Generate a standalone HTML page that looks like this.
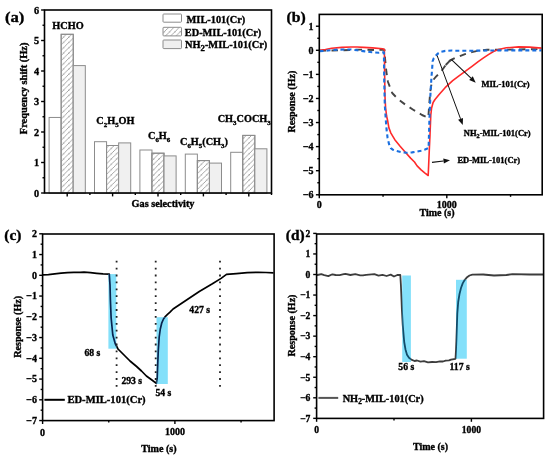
<!DOCTYPE html><html><head><meta charset="utf-8"><style>html,body{margin:0;padding:0;background:#fff;}svg{display:block;}text{font-family:"Liberation Serif","Times New Roman",serif;font-weight:bold;fill:#000;stroke:#000;stroke-width:0.35px;}</style></head><body>
<svg width="550" height="457" viewBox="0 0 550 457">
<defs><pattern id="hatch" patternUnits="userSpaceOnUse" width="5.3" height="5.3" patternTransform="translate(0,0)"><path d="M-1,1.325 L1.325,-1 M0,5.3 L5.3,0 M3.975,6.3 L6.3,3.975" stroke="#8a8a8a" stroke-width="0.75"/></pattern></defs>
<rect width="550" height="457" fill="#fff"/>
<g stroke="#8c8c8c" stroke-width="1">
<rect x="49.1" y="117.45" width="12.07" height="75.85" fill="#fff"/>
<rect x="61.17" y="34.3" width="12.07" height="159" fill="#fff"/>
<rect x="61.17" y="34.3" width="12.07" height="159" fill="url(#hatch)"/>
<rect x="73.24" y="65.6" width="12.07" height="127.7" fill="#f0f0f0"/>
<rect x="94.5" y="141.7" width="12.07" height="51.6" fill="#fff"/>
<rect x="106.57" y="145.5" width="12.07" height="47.8" fill="#fff"/>
<rect x="106.57" y="145.5" width="12.07" height="47.8" fill="url(#hatch)"/>
<rect x="118.64" y="142.9" width="12.07" height="50.4" fill="#f0f0f0"/>
<rect x="139.9" y="150" width="12.07" height="43.3" fill="#fff"/>
<rect x="151.97" y="153.2" width="12.07" height="40.1" fill="#fff"/>
<rect x="151.97" y="153.2" width="12.07" height="40.1" fill="url(#hatch)"/>
<rect x="164.04" y="155.9" width="12.07" height="37.4" fill="#f0f0f0"/>
<rect x="185.3" y="154.1" width="12.07" height="39.2" fill="#fff"/>
<rect x="197.37" y="160.6" width="12.07" height="32.7" fill="#fff"/>
<rect x="197.37" y="160.6" width="12.07" height="32.7" fill="url(#hatch)"/>
<rect x="209.44" y="163.1" width="12.07" height="30.2" fill="#f0f0f0"/>
<rect x="230.7" y="152.3" width="12.07" height="41" fill="#fff"/>
<rect x="242.77" y="135.4" width="12.07" height="57.9" fill="#fff"/>
<rect x="242.77" y="135.4" width="12.07" height="57.9" fill="url(#hatch)"/>
<rect x="254.84" y="148.8" width="12.07" height="44.5" fill="#f0f0f0"/>
</g>
<g stroke="#8c8c8c" stroke-width="1">
<rect x="163" y="14" width="18.5" height="8.2" fill="#fff" rx="0.8"/>
<rect x="163" y="27.3" width="18.5" height="8.6" fill="url(#hatch)" rx="0.8"/>
<rect x="163" y="40" width="18.5" height="8.6" fill="#efefef" rx="0.8"/>
</g>
<text x="186.6" y="23" font-size="10.35" text-anchor="start">MIL-101(Cr)</text>
<text x="184.8" y="36" font-size="10.35" text-anchor="start">ED-MIL-101(Cr)</text>
<text x="184.9" y="48.4" font-size="10.4" text-anchor="start">NH<tspan font-size="8.8" dy="2.8">2</tspan><tspan dy="-2.8">-MIL-101(Cr)</tspan></text>
<g stroke="#000" stroke-width="1.4" fill="none">
<rect x="44.5" y="10" width="227" height="183" fill="none" stroke="#000" stroke-width="1.6"/>
<line x1="41.1" y1="193" x2="44.5" y2="193"/>
<line x1="42.5" y1="177.75" x2="44.5" y2="177.75"/>
<line x1="41.1" y1="162.5" x2="44.5" y2="162.5"/>
<line x1="42.5" y1="147.25" x2="44.5" y2="147.25"/>
<line x1="41.1" y1="132" x2="44.5" y2="132"/>
<line x1="42.5" y1="116.75" x2="44.5" y2="116.75"/>
<line x1="41.1" y1="101.5" x2="44.5" y2="101.5"/>
<line x1="42.5" y1="86.25" x2="44.5" y2="86.25"/>
<line x1="41.1" y1="71" x2="44.5" y2="71"/>
<line x1="42.5" y1="55.75" x2="44.5" y2="55.75"/>
<line x1="41.1" y1="40.5" x2="44.5" y2="40.5"/>
<line x1="42.5" y1="25.25" x2="44.5" y2="25.25"/>
<line x1="41.1" y1="10" x2="44.5" y2="10"/>
<line x1="67.2" y1="193" x2="67.2" y2="196.4"/>
<line x1="112.6" y1="193" x2="112.6" y2="196.4"/>
<line x1="158" y1="193" x2="158" y2="196.4"/>
<line x1="203.4" y1="193" x2="203.4" y2="196.4"/>
<line x1="248.8" y1="193" x2="248.8" y2="196.4"/>
<line x1="89.9" y1="193" x2="89.9" y2="195"/>
<line x1="135.3" y1="193" x2="135.3" y2="195"/>
<line x1="180.7" y1="193" x2="180.7" y2="195"/>
<line x1="226.1" y1="193" x2="226.1" y2="195"/>
<line x1="271.5" y1="193" x2="271.5" y2="195"/>
</g>
<text x="39" y="196.6" font-size="10.25" text-anchor="end">0</text>
<text x="39" y="166.1" font-size="10.25" text-anchor="end">1</text>
<text x="39" y="135.6" font-size="10.25" text-anchor="end">2</text>
<text x="39" y="105.1" font-size="10.25" text-anchor="end">3</text>
<text x="39" y="74.6" font-size="10.25" text-anchor="end">4</text>
<text x="39" y="44.1" font-size="10.25" text-anchor="end">5</text>
<text x="39" y="13.6" font-size="10.25" text-anchor="end">6</text>
<text transform="translate(26.5,88.4) rotate(-90)" font-size="10.4" text-anchor="middle">Frequency shift (Hz)</text>
<text x="163" y="206.7" font-size="10.25" text-anchor="middle">Gas selectivity</text>
<text x="4.9" y="22.4" font-size="14.7" text-anchor="start" textLength="19.4" lengthAdjust="spacingAndGlyphs">(a)</text>
<text x="52.3" y="29.1" font-size="10.25" text-anchor="start">HCHO</text>
<text x="96.3" y="124" font-size="10.25" text-anchor="start">C<tspan font-size="6.9" dy="3.3">2</tspan><tspan dy="-3.3">H</tspan><tspan font-size="6.9" dy="3.3">5</tspan><tspan dy="-3.3">OH</tspan></text>
<text x="148" y="139" font-size="10.25" text-anchor="start">C<tspan font-size="6.9" dy="3.3">6</tspan><tspan dy="-3.3">H</tspan><tspan font-size="6.9" dy="3.3">6</tspan></text>
<text x="180" y="144.6" font-size="10.25" text-anchor="start">C<tspan font-size="6.9" dy="3.3">6</tspan><tspan dy="-3.3">H</tspan><tspan font-size="6.9" dy="3.3">5</tspan><tspan dy="-3.3">(CH</tspan><tspan font-size="6.9" dy="3.3">3</tspan><tspan dy="-3.3">)</tspan></text>
<text x="217.7" y="121.8" font-size="10.25" text-anchor="start">CH<tspan font-size="6.9" dy="3.3">3</tspan><tspan dy="-3.3">COCH</tspan><tspan font-size="6.9" dy="3.3">3</tspan></text>
<g fill="none" stroke-linejoin="round">
<polyline points="319.5,50.8 340,50.3 360,49.6 375,50 384.4,49.6 385.2,60 386.4,72 388,82 392.2,93 397.5,98.6 406.2,105.3 413.2,109.7 422,115 428.3,117.6 429.2,105 430.2,92 431.5,84 434,79 436,76.7 440.9,71.8 445.7,65 450,60.6 451.6,59.7 455,58 459.1,56.5 465,54.2 471.8,52.1 478.2,50.8 487.1,49.6 492.2,49.8 510,49.6 541.5,49" stroke="#444" stroke-width="1.9" stroke-dasharray="6.5,5.5"/>
<polyline points="445.7,65 450,60.6 451.6,59.7" stroke="#444" stroke-width="1.9"/>
<polyline points="319.5,50.2 325.4,49.5 331.7,48.3 341.9,47.4 350.8,47 357.2,47 363.5,47.4 372.5,47.9 382.6,48.7 384.4,49.5 384.6,70 384.9,95 385.6,108 386.6,116 387.6,120.5 388.9,127.9 390.9,133.1 394.8,139.7 400.1,146.2 404.7,151.5 410.6,158.1 414.5,162 417.1,165.9 421.1,169.9 425,173.1 428.2,175.5 429.3,150 430,135 430.8,115 431.6,108 433.1,102.5 435,99.5 438.3,95.5 440,93.5 445.1,87.7 452.7,80.7 459,75.8 465.5,71.2 472,66.3 478.2,61.6 483.5,57.8 488.4,54.6 493.5,51.5 498.5,49.5 506.4,47.8 518.7,46.9 529.6,47.1 541.5,48.1" stroke="#ff2a2a" stroke-width="1.6"/>
<polyline points="319.5,51.2 328,50.5 338.1,49.6 350.8,49.5 357.2,50.3 365,51.4 372,52.3 378.8,52.8 382.6,52.4 383.9,52.2 384.2,80 384.8,105 385.8,120 386.6,130 387.6,138 389,144 390.9,148.2 393,149.8 396.1,150.8 401,152 406.6,152.8 412,152.4 417.1,151.5 421,150.7 425,149.5 428.6,148 429.4,120 430.4,95 431.4,78 432.2,68 432.6,61.4 433.8,58.2 436.5,54.9 438.5,53.1 440.9,51.8 445.3,50.9 451.8,50.5 455,50.7 472.5,50.7 498.8,50.4 541.5,50.4" stroke="#1a6fe0" stroke-width="2.1" stroke-dasharray="4,3"/>
</g>
<line x1="451.5" y1="59.7" x2="470.99" y2="78.22" stroke="#111" stroke-width="1.1"/>
<polygon points="475.7,82.7 469.2,80.11 472.78,76.34" fill="#111"/>
<line x1="437.1" y1="55.5" x2="460.54" y2="118.8" stroke="#111" stroke-width="1"/>
<polygon points="462.8,124.9 458.1,119.71 462.98,117.9" fill="#111"/>
<line x1="432" y1="162.4" x2="443.55" y2="160.99" stroke="#111" stroke-width="1.2"/>
<polygon points="450,160.2 443.86,163.57 443.23,158.41" fill="#111"/>
<text x="481.5" y="86.9" font-size="8.5" text-anchor="start">MIL-101(Cr)</text>
<text x="463.8" y="136" font-size="8.5" text-anchor="start">NH<tspan font-size="6.2" dy="1.8">2</tspan><tspan dy="-1.8">-MIL-101(Cr)</tspan></text>
<text x="457.4" y="162.9" font-size="8.5" text-anchor="start">ED-MIL-101(Cr)</text>
<g stroke="#000" stroke-width="1.4" fill="none">
<rect x="319.3" y="14.4" width="222.9" height="180.4" fill="none" stroke="#000" stroke-width="1.6"/>
<line x1="315.9" y1="194.78" x2="319.3" y2="194.78"/>
<line x1="317.3" y1="182.74" x2="319.3" y2="182.74"/>
<line x1="315.9" y1="170.7" x2="319.3" y2="170.7"/>
<line x1="317.3" y1="158.66" x2="319.3" y2="158.66"/>
<line x1="315.9" y1="146.62" x2="319.3" y2="146.62"/>
<line x1="317.3" y1="134.58" x2="319.3" y2="134.58"/>
<line x1="315.9" y1="122.54" x2="319.3" y2="122.54"/>
<line x1="317.3" y1="110.5" x2="319.3" y2="110.5"/>
<line x1="315.9" y1="98.46" x2="319.3" y2="98.46"/>
<line x1="317.3" y1="86.42" x2="319.3" y2="86.42"/>
<line x1="315.9" y1="74.38" x2="319.3" y2="74.38"/>
<line x1="317.3" y1="62.34" x2="319.3" y2="62.34"/>
<line x1="315.9" y1="50.3" x2="319.3" y2="50.3"/>
<line x1="317.3" y1="38.26" x2="319.3" y2="38.26"/>
<line x1="315.9" y1="26.22" x2="319.3" y2="26.22"/>
<line x1="319.3" y1="194.8" x2="319.3" y2="198.2"/>
<line x1="446.8" y1="194.8" x2="446.8" y2="198.2"/>
<line x1="383.05" y1="194.8" x2="383.05" y2="196.8"/>
<line x1="510.55" y1="194.8" x2="510.55" y2="196.8"/>
</g>
<text x="313.6" y="198.28" font-size="10" text-anchor="end">−6</text>
<text x="313.6" y="174.2" font-size="10" text-anchor="end">−5</text>
<text x="313.6" y="150.12" font-size="10" text-anchor="end">−4</text>
<text x="313.6" y="126.04" font-size="10" text-anchor="end">−3</text>
<text x="313.6" y="101.96" font-size="10" text-anchor="end">−2</text>
<text x="313.6" y="77.88" font-size="10" text-anchor="end">−1</text>
<text x="313.6" y="53.8" font-size="10" text-anchor="end">0</text>
<text x="313.6" y="29.72" font-size="10" text-anchor="end">1</text>
<text x="319.3" y="208.3" font-size="10" text-anchor="middle">0</text>
<text x="446.8" y="208.3" font-size="10" text-anchor="middle">1000</text>
<text x="437" y="215.6" font-size="10" text-anchor="middle">Time (s)</text>
<text transform="translate(295.4,101.6) rotate(-90)" font-size="10.1" text-anchor="middle">Response (Hz)</text>
<text x="286.5" y="22.1" font-size="14.5" text-anchor="start" textLength="19.2" lengthAdjust="spacingAndGlyphs">(b)</text>
<polyline points="42.6,274.9 48.4,274.6 54.7,273.9 61.1,273.1 67.5,272.6 73.8,272.4 80.2,272.3 84,272.1 90.4,272.6 96.7,273.3 103.1,273.9 109.3,274.2 110,285 110.4,300 111.1,317.5 112.8,335 115.2,343.5 118,349 125,356 130,361 136.6,366.5 141.5,371 146.4,376 151.9,380 156.3,383.4 157.2,378 157.7,365 158.3,350 159.2,337 160.3,329 161.8,322.8 163.5,319 165.5,316.3 167.5,314.4 170,312.2 173.1,309 186.2,300.2 199.3,291.5 212.4,283.8 221.1,278.4 226.5,274.4 236.4,273.6 247.3,272.6 258.2,272.3 266,272.5 273.5,272.9" fill="none" stroke="#000" stroke-width="1.7" stroke-linejoin="round"/>
<clipPath id="clipc"><rect x="108.4" y="274.1" width="7.9" height="74.6"/><rect x="156.5" y="317.2" width="11.3" height="66.8"/></clipPath>
<g fill="#84e0fa"><rect x="108.4" y="274.1" width="7.9" height="74.6"/><rect x="156.5" y="317.2" width="11.3" height="66.8"/></g>
<polyline clip-path="url(#clipc)" points="42.6,274.9 48.4,274.6 54.7,273.9 61.1,273.1 67.5,272.6 73.8,272.4 80.2,272.3 84,272.1 90.4,272.6 96.7,273.3 103.1,273.9 109.3,274.2 110,285 110.4,300 111.1,317.5 112.8,335 115.2,343.5 118,349 125,356 130,361 136.6,366.5 141.5,371 146.4,376 151.9,380 156.3,383.4 157.2,378 157.7,365 158.3,350 159.2,337 160.3,329 161.8,322.8 163.5,319 165.5,316.3 167.5,314.4 170,312.2 173.1,309 186.2,300.2 199.3,291.5 212.4,283.8 221.1,278.4 226.5,274.4 236.4,273.6 247.3,272.6 258.2,272.3 266,272.5 273.5,272.9" fill="none" stroke="#08234f" stroke-width="1.7" stroke-linejoin="round"/>
<g stroke="#222" stroke-width="1.8" stroke-dasharray="1.8,5.1">
<line x1="116.6" y1="260.8" x2="116.6" y2="388"/>
<line x1="155.7" y1="260.8" x2="155.7" y2="388"/>
<line x1="220" y1="260.8" x2="220" y2="388"/>
</g>
<text x="84.5" y="355.9" font-size="9.7" text-anchor="start">68 s</text>
<text x="121.4" y="384" font-size="9.7" text-anchor="start">293 s</text>
<text x="155.4" y="395.5" font-size="9.7" text-anchor="start">54 s</text>
<text x="189.3" y="313.3" font-size="9.7" text-anchor="start">427 s</text>
<line x1="44.4" y1="399.8" x2="64.8" y2="399.8" stroke="#000" stroke-width="2"/>
<text x="67.4" y="403.3" font-size="10.6" text-anchor="start">ED-MIL-101(Cr)</text>
<g stroke="#000" stroke-width="1.4" fill="none">
<rect x="42.6" y="234" width="231.5" height="186.6" fill="none" stroke="#000" stroke-width="1.6"/>
<line x1="39.2" y1="420.55" x2="42.6" y2="420.55"/>
<line x1="40.6" y1="410.18" x2="42.6" y2="410.18"/>
<line x1="39.2" y1="399.8" x2="42.6" y2="399.8"/>
<line x1="40.6" y1="389.43" x2="42.6" y2="389.43"/>
<line x1="39.2" y1="379.05" x2="42.6" y2="379.05"/>
<line x1="40.6" y1="368.68" x2="42.6" y2="368.68"/>
<line x1="39.2" y1="358.3" x2="42.6" y2="358.3"/>
<line x1="40.6" y1="347.93" x2="42.6" y2="347.93"/>
<line x1="39.2" y1="337.55" x2="42.6" y2="337.55"/>
<line x1="40.6" y1="327.18" x2="42.6" y2="327.18"/>
<line x1="39.2" y1="316.8" x2="42.6" y2="316.8"/>
<line x1="40.6" y1="306.43" x2="42.6" y2="306.43"/>
<line x1="39.2" y1="296.05" x2="42.6" y2="296.05"/>
<line x1="40.6" y1="285.68" x2="42.6" y2="285.68"/>
<line x1="39.2" y1="275.3" x2="42.6" y2="275.3"/>
<line x1="40.6" y1="264.93" x2="42.6" y2="264.93"/>
<line x1="39.2" y1="254.55" x2="42.6" y2="254.55"/>
<line x1="40.6" y1="244.18" x2="42.6" y2="244.18"/>
<line x1="39.2" y1="233.8" x2="42.6" y2="233.8"/>
<line x1="42.6" y1="420.6" x2="42.6" y2="424"/>
<line x1="174.9" y1="420.6" x2="174.9" y2="424"/>
<line x1="108.75" y1="420.6" x2="108.75" y2="422.6"/>
<line x1="241.05" y1="420.6" x2="241.05" y2="422.6"/>
</g>
<text x="36.9" y="423.95" font-size="10" text-anchor="end">−7</text>
<text x="36.9" y="403.2" font-size="10" text-anchor="end">−6</text>
<text x="36.9" y="382.45" font-size="10" text-anchor="end">−5</text>
<text x="36.9" y="361.7" font-size="10" text-anchor="end">−4</text>
<text x="36.9" y="340.95" font-size="10" text-anchor="end">−3</text>
<text x="36.9" y="320.2" font-size="10" text-anchor="end">−2</text>
<text x="36.9" y="299.45" font-size="10" text-anchor="end">−1</text>
<text x="36.9" y="278.7" font-size="10" text-anchor="end">0</text>
<text x="36.9" y="257.95" font-size="10" text-anchor="end">1</text>
<text x="36.9" y="237.2" font-size="10" text-anchor="end">2</text>
<text x="42.6" y="435.5" font-size="10" text-anchor="middle">0</text>
<text x="174.9" y="435.2" font-size="10" text-anchor="middle">1000</text>
<text x="158.9" y="452" font-size="10.1" text-anchor="middle">Time (s)</text>
<text transform="translate(20.8,326.8) rotate(-90)" font-size="10.1" text-anchor="middle">Response (Hz)</text>
<text x="4.3" y="240" font-size="13.8" text-anchor="start" textLength="17.1" lengthAdjust="spacingAndGlyphs">(c)</text>
<polyline points="316.6,274.9 317.6,275 321.3,274.2 324.2,275.2 328.3,276.1 332.4,274.3 335.6,275 339.7,275.2 343.8,274.2 345.5,273.9 350.4,275 355.3,274.2 360.2,275.3 362.9,275.4 366.2,274.8 374.4,274.2 378.5,275.6 382.5,274.8 386.6,276 390.7,274.6 394,276.5 397.3,275 400.3,275 400.9,285 401.4,297 401.9,310 402.7,324.6 404.2,342 405.5,349.5 407,354.8 409,357.8 411.4,359.6 414.5,361 417,360.5 420.5,361.6 424,361.2 428,362.4 432,362 436,362.2 440,361.3 443,361.5 445.6,360.6 449,360.4 451,359.6 455.5,358.8 456,350 456.4,340 457.3,313.7 458.2,302 459.5,294 461,288 462.8,283.1 464.8,279.8 467.1,277.2 469.5,275.5 472.4,274.6 483.2,274.5 494,275.5 506.4,275 512.5,274.1 529.6,274.5 543.2,274.5" fill="none" stroke="#3c3c3c" stroke-width="1.8" stroke-linejoin="round"/>
<clipPath id="clipd"><rect x="402.2" y="275.5" width="8.7" height="86.5"/><rect x="456.0" y="279.8" width="10.8" height="78.9"/></clipPath>
<g fill="#84e0fa"><rect x="402.2" y="275.5" width="8.7" height="86.5"/><rect x="456.0" y="279.8" width="10.8" height="78.9"/></g>
<polyline clip-path="url(#clipd)" points="316.6,274.9 317.6,275 321.3,274.2 324.2,275.2 328.3,276.1 332.4,274.3 335.6,275 339.7,275.2 343.8,274.2 345.5,273.9 350.4,275 355.3,274.2 360.2,275.3 362.9,275.4 366.2,274.8 374.4,274.2 378.5,275.6 382.5,274.8 386.6,276 390.7,274.6 394,276.5 397.3,275 400.3,275 400.9,285 401.4,297 401.9,310 402.7,324.6 404.2,342 405.5,349.5 407,354.8 409,357.8 411.4,359.6 414.5,361 417,360.5 420.5,361.6 424,361.2 428,362.4 432,362 436,362.2 440,361.3 443,361.5 445.6,360.6 449,360.4 451,359.6 455.5,358.8 456,350 456.4,340 457.3,313.7 458.2,302 459.5,294 461,288 462.8,283.1 464.8,279.8 467.1,277.2 469.5,275.5 472.4,274.6 483.2,274.5 494,275.5 506.4,275 512.5,274.1 529.6,274.5 543.2,274.5" fill="none" stroke="#124c6a" stroke-width="1.8" stroke-linejoin="round"/>
<text x="398.3" y="370.3" font-size="9.7" text-anchor="start">56 s</text>
<text x="449.5" y="370.3" font-size="9.7" text-anchor="start">117 s</text>
<line x1="318.4" y1="397.9" x2="338.2" y2="397.9" stroke="#555" stroke-width="2"/>
<text x="342.7" y="402" font-size="10.3" text-anchor="start">NH<tspan font-size="7.4" dy="2">2</tspan><tspan dy="-2">-MIL-101(Cr)</tspan></text>
<g stroke="#000" stroke-width="1.4" fill="none">
<rect x="316.6" y="234" width="227" height="184.4" fill="none" stroke="#000" stroke-width="1.6"/>
<line x1="313.2" y1="418.35" x2="316.6" y2="418.35"/>
<line x1="314.6" y1="408.08" x2="316.6" y2="408.08"/>
<line x1="313.2" y1="397.8" x2="316.6" y2="397.8"/>
<line x1="314.6" y1="387.52" x2="316.6" y2="387.52"/>
<line x1="313.2" y1="377.25" x2="316.6" y2="377.25"/>
<line x1="314.6" y1="366.98" x2="316.6" y2="366.98"/>
<line x1="313.2" y1="356.7" x2="316.6" y2="356.7"/>
<line x1="314.6" y1="346.43" x2="316.6" y2="346.43"/>
<line x1="313.2" y1="336.15" x2="316.6" y2="336.15"/>
<line x1="314.6" y1="325.88" x2="316.6" y2="325.88"/>
<line x1="313.2" y1="315.6" x2="316.6" y2="315.6"/>
<line x1="314.6" y1="305.32" x2="316.6" y2="305.32"/>
<line x1="313.2" y1="295.05" x2="316.6" y2="295.05"/>
<line x1="314.6" y1="284.77" x2="316.6" y2="284.77"/>
<line x1="313.2" y1="274.5" x2="316.6" y2="274.5"/>
<line x1="314.6" y1="264.23" x2="316.6" y2="264.23"/>
<line x1="313.2" y1="253.95" x2="316.6" y2="253.95"/>
<line x1="314.6" y1="243.68" x2="316.6" y2="243.68"/>
<line x1="313.2" y1="233.4" x2="316.6" y2="233.4"/>
<line x1="316.6" y1="418.4" x2="316.6" y2="421.8"/>
<line x1="471.4" y1="418.4" x2="471.4" y2="421.8"/>
<line x1="394" y1="418.4" x2="394" y2="420.4"/>
</g>
<text x="310.4" y="421.65" font-size="9.6" text-anchor="end">−7</text>
<text x="310.4" y="401.1" font-size="9.6" text-anchor="end">−6</text>
<text x="310.4" y="380.55" font-size="9.6" text-anchor="end">−5</text>
<text x="310.4" y="360" font-size="9.6" text-anchor="end">−4</text>
<text x="310.4" y="339.45" font-size="9.6" text-anchor="end">−3</text>
<text x="310.4" y="318.9" font-size="9.6" text-anchor="end">−2</text>
<text x="310.4" y="298.35" font-size="9.6" text-anchor="end">−1</text>
<text x="310.4" y="277.8" font-size="9.6" text-anchor="end">0</text>
<text x="310.4" y="257.25" font-size="9.6" text-anchor="end">1</text>
<text x="310.4" y="236.7" font-size="9.6" text-anchor="end">2</text>
<text x="316.6" y="432.8" font-size="9.6" text-anchor="middle">0</text>
<text x="471.4" y="433.2" font-size="9.6" text-anchor="middle">1000</text>
<text x="430.5" y="449.6" font-size="10" text-anchor="middle">Time (s)</text>
<text transform="translate(295,325.5) rotate(-90)" font-size="10.1" text-anchor="middle">Response (Hz)</text>
<text x="285.8" y="239.5" font-size="14" text-anchor="start" textLength="18.8" lengthAdjust="spacingAndGlyphs">(d)</text>
</svg></body></html>
